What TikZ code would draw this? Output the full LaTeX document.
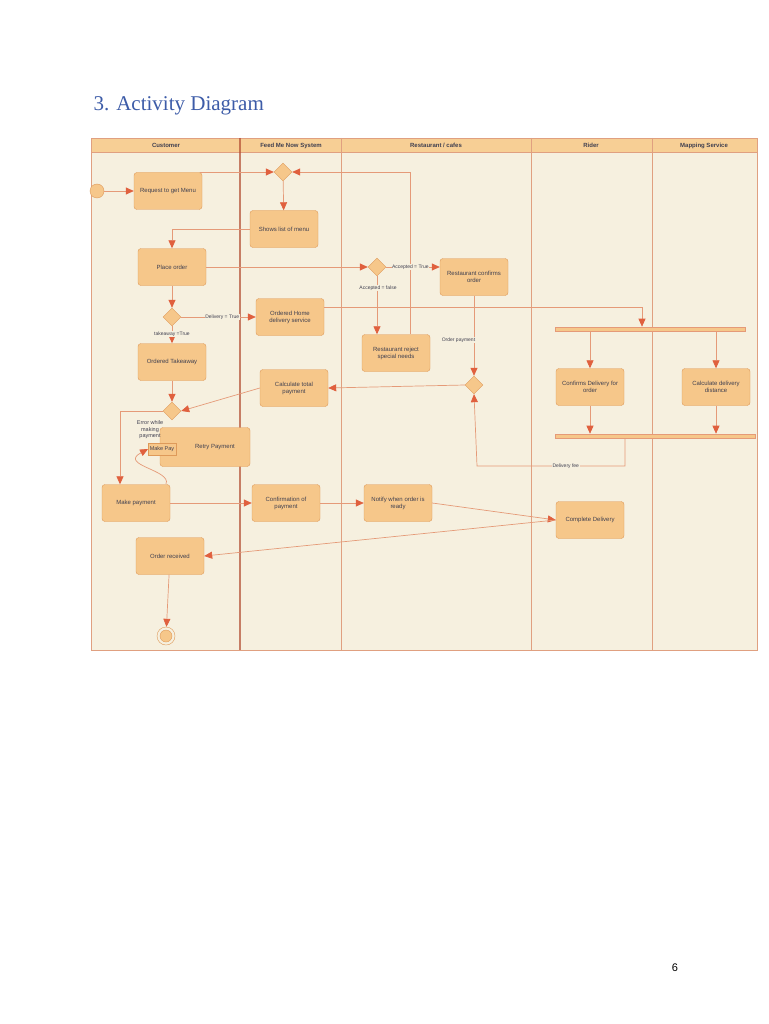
\documentclass[tikz,border=0pt]{standalone}
\usepackage{fontspec}
\setmainfont{Liberation Sans}
\newfontfamily\titlefont{Liberation Serif}
\usetikzlibrary{shapes.geometric,arrows.meta}
\definecolor{bgc}{HTML}{F6F0DF}
\definecolor{hdr}{HTML}{F7CF95}
\definecolor{nfill}{HTML}{F6C78A}
\definecolor{nline}{HTML}{DE9A5A}
\definecolor{ln}{HTML}{E59A78}
\definecolor{ah}{HTML}{E0603E}
\definecolor{lane}{HTML}{E0A080}
\definecolor{ttl}{HTML}{3D5CA8}
\definecolor{txt}{HTML}{404050}
\tikzset{
 act/.style={draw=nline,fill=nfill,rounded corners=3pt,minimum width=68pt,minimum height=37pt,align=center,font=\fontsize{6}{7}\selectfont,text=txt,inner sep=1pt},
 dec/.style={diamond,draw=nline,fill=nfill,minimum width=18pt,minimum height=18pt,inner sep=0pt,aspect=1},
 arr/.style={draw=ln,line width=0.7pt,-{Triangle[length=8pt,width=7pt,color=ah]}},
 lnn/.style={draw=ln,line width=0.7pt},
 lbl/.style={font=\fontsize{5}{6}\selectfont,text=txt,fill=bgc,inner sep=0.5pt},
 bar/.style={fill=nfill,draw=ln,line width=0.6pt},
 hd/.style={font=\fontsize{6}{7}\selectfont\bfseries,text=txt},
}
\begin{document}
\begin{tikzpicture}[x=1pt,y=-1pt]
\useasboundingbox (0,0) rectangle (768,1024);
\fill[white] (0,0) rectangle (768,1024);
\node[anchor=west,font=\titlefont\fontsize{21}{24}\selectfont,text=ttl] (title) at (90,106) {3. Activity Diagram};
\node[font=\fontsize{11}{12}\selectfont] (pg) at (675,968) {6};
% frame
\fill[bgc] (91,138) rectangle (757,650);
\fill[hdr] (91,138) rectangle (757,152);
\draw[lane,line width=0.6pt] (91,138) rectangle (757,650);
\draw[lane,line width=0.6pt] (91,152) -- (757,152);
\draw[ah!80!black,line width=1.3pt,opacity=0.7] (240,138) -- (240,650);
\foreach \x in {341,531,652} \draw[lane,line width=0.6pt] (\x,138) -- (\x,650);
\node[hd] (h1) at (166,145.5) {Customer};
\node[hd] (h2) at (291,145.5) {Feed Me Now System};
\node[hd] (h3) at (436,145.5) {Restaurant / cafes};
\node[hd] (h4) at (591,145.5) {Rider};
\node[hd] (h5) at (704,145.5) {Mapping Service};
% nodes
\node[circle,draw=nline,fill=nfill,minimum size=14pt,inner sep=0pt] (st) at (97,191) {};
\node[act] (req) at (168,191) {Request to get Menu};
\node[dec] (d1) at (283,172) {};
\node[act] (menu) at (284,229) {Shows list of menu};
\node[act] (place) at (172,267) {Place order};
\node[dec] (d2) at (172,317) {};
\node[act] (home) at (290,317) {Ordered Home\\delivery service};
\node[dec] (d3) at (377,267) {};
\node[act] (conf) at (474,277) {Restaurant confirms\\order};
\node[act] (rej) at (396,353) {Restaurant reject\\special needs};
\node[act] (take) at (172,362) {Ordered Takeaway};
\node[act] (calc) at (294,388) {Calculate total\\payment};
\node[dec] (d4) at (474,385) {};
\node[bar,minimum width=190pt,minimum height=4pt,inner sep=0pt] (fork) at (650,329) {};
\node[act] (cdel) at (590,387) {Confirms Delivery for\\order};
\node[act] (dist) at (716,387) {Calculate delivery\\distance};
\node[bar,minimum width=200pt,minimum height=4pt,inner sep=0pt] (join) at (655,436) {};
\node[dec] (d5) at (172,411) {};
\node[act,minimum width=90pt,minimum height=39pt] (retry) at (205,447) {\hspace{20pt}Retry Payment};
\node[draw=nline,fill=nfill,font=\fontsize{5.5}{6}\selectfont,text=txt,inner sep=1.5pt,minimum height=12pt] (mp) at (162,449) {Make Pay};
\node[font=\fontsize{5.5}{6.5}\selectfont,text=txt,align=center] (err) at (150,430) {Error while\\making\\payment};
\node[act] (pay) at (136,503) {Make payment};
\node[act] (cpay) at (286,503) {Confirmation of\\payment};
\node[act] (noti) at (398,503) {Notify when order is\\ready};
\node[act] (comp) at (590,520) {Complete Delivery};
\node[act] (recv) at (170,556) {Order received};
\node[circle,draw=nline,minimum size=18pt,inner sep=0pt] (end) at (166,636) {};
\node[circle,fill=nfill,draw=nline,minimum size=12pt,inner sep=0pt] (endin) at (166,636) {};
% edges
\draw[arr] (st) -- (req);
\coordinate (rq) at (200,172);
\draw[arr] (rq) -- (d1.west);
\coordinate (rjt) at (410,172);
\draw[arr] (rej.north -| rjt) -- (rjt) -- (d1.east);
\draw[arr] (d1) -- (menu);
\draw[arr] (menu.west) -| (place.north);
\draw[arr] (place.east) -- (d3.west);
\draw[arr] (d3.east) -- node[lbl,pos=0.45]{Accepted = True} (conf.west |- d3);
\draw[arr] (d3.south) -- (rej.north -| d3);
\node[lbl] (lf) at (378,288) {Accepted = false};
\draw[arr] (place) -- (d2);
\draw[arr] (d2.east) -- node[lbl,pos=0.55]{Delivery = True} (home.west);
\draw[arr] (d2.south) -- node[lbl,pos=0.45]{takeaway =True} (take.north);
\coordinate (hk) at (642,307);
\draw[arr] (home.east |- hk) -- (hk) -- (fork.north -| hk);
\draw[arr] (fork.south -| cdel) -- (cdel);
\draw[arr] (fork.south -| dist) -- (dist);
\draw[arr] (cdel) -- (join.north -| cdel);
\draw[arr] (dist) -- (join.north -| dist);
\coordinate (j1) at (625,466);
\coordinate (j2) at (477,466);
\draw[arr] (join.south -| j1) -- (j1) -- node[lbl,pos=0.4]{Delivery fee} (j2) -- (d4.south);
\draw[arr] (conf) -- node[lbl,pos=0.55,left=-2pt]{Order payment} (d4.north);
\draw[arr] (d4.west) -- (calc.east);
\draw[arr] (calc.west) -- (d5.east);
\draw[arr] (take) -- (d5);
\coordinate (pk) at (120,411);
\draw[arr] (d5.west) -- (pk) -- (pay.north -| pk);
\coordinate (pc) at (166,484);
\draw[arr] (pc) .. controls (172,470) and (118,465) .. (mp.west);
\draw[arr] (pay) -- (cpay);
\draw[arr] (cpay) -- (noti);
\draw[arr] (noti.east) -- (comp.west);
\draw[arr] (comp.west) -- (recv.east);
\draw[arr] (recv) -- (end);
\end{tikzpicture}
\end{document}
